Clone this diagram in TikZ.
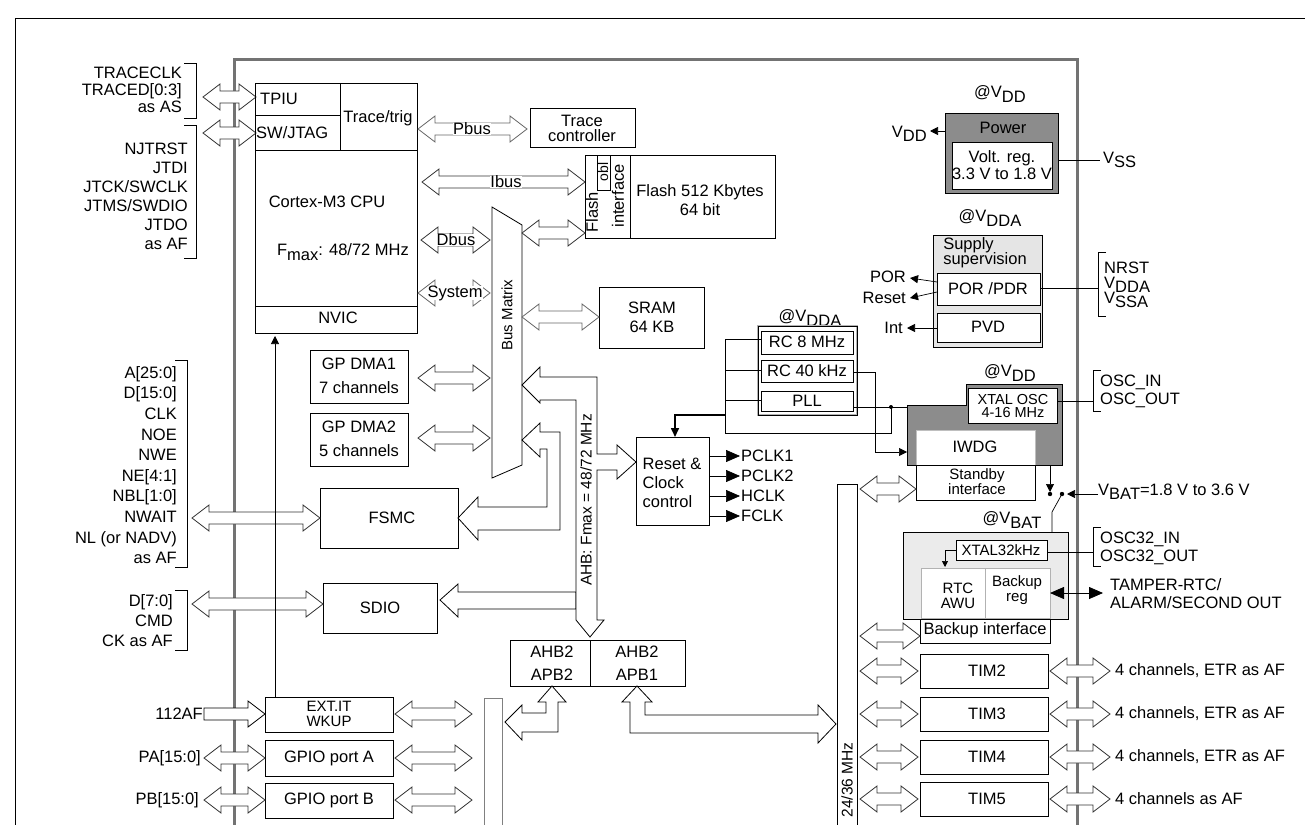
\documentclass[tikz,border=0pt]{standalone}
\usepackage{fontspec}
\setmainfont{Liberation Sans}
\usetikzlibrary{positioning,arrows.meta}
\newcommand\lowr[1]{\raisebox{-.5ex}{#1}}
% hollow double bus arrow: \dbus[colour]{x1}{x2}{y}
\newcommand\dbus[4][black!80]{\draw[bus,draw=#1] (#2,#4) -- ({#2+17},{#4-13}) -- ({#2+17},{#4-6}) -- ({#3-17},{#4-6}) -- ({#3-17},{#4-13}) -- (#3,#4) -- ({#3-17},{#4+13}) -- ({#3-17},{#4+6}) -- ({#2+17},{#4+6}) -- ({#2+17},{#4+13}) -- cycle;}
% hollow single bus arrow pointing right
\newcommand\sbus[3]{\draw[bus] (#1,{#3-6}) -- ({#2-17},{#3-6}) -- ({#2-17},{#3-13}) -- (#2,#3) -- ({#2-17},{#3+13}) -- ({#2-17},{#3+6}) -- (#1,{#3+6}) -- cycle;}
% bracket: \lbrk{x}{y1}{y2} opens left, \rbrk opens right
\newcommand\lbrk[3]{\draw (#1-12,#2) -- (#1,#2) -- (#1,#3) -- (#1-12,#3);}
\newcommand\rbrk[3]{\draw (#1+8,#2) -- (#1,#2) -- (#1,#3) -- (#1+8,#3);}
\tikzset{
  bus/.style={fill=white,line width=0.8pt,line join=miter},
  box/.style={draw,line width=0.8pt},
  lbl/.style={inner sep=0pt,font=\fontsize{16.5}{18}\selectfont,align=center},
  tight/.style={font=\fontsize{15}{15}\selectfont},
  rlbl/.style={lbl,anchor=east,align=right},
  llbl/.style={lbl,anchor=west,align=left},
  ln/.style={line width=0.7pt},
  tip/.style={-{Triangle[length=8pt,width=8pt]},line width=0.7pt}
}
\begin{document}
\begin{tikzpicture}[x=1pt,y=-1pt]
  \useasboundingbox (0,0) rectangle (1305,824);
  % frames
  \draw[line width=0.8pt] (15,830) -- (15,18) -- (1310,18);
  \draw[line width=3pt,black!55] (234,830) -- (234,60) -- (1077,60) -- (1077,830);

  % trace / jtag pins
  \node[rlbl] (trc) at (182,90) {TRACECLK\\[-1pt]TRACED[0:3]\\[-1pt]as AS};
  \lbrk{196}{63}{118}
  \node[rlbl] (jtg) at (188,196) {NJTRST\\[1pt]JTDI\\[1pt]JTCK/SWCLK\\[1pt]JTMS/SWDIO\\[1pt]JTDO\\[1pt]as AF};
  \lbrk{196}{125}{258}
  \dbus{203}{256}{97}
  \dbus{203}{256}{133}

  % CPU
  \draw[box] (255,83) rectangle (417,333);
  \draw[box] (255,115) -- (340,115) (340,83) -- (340,150) (255,150) -- (417,150) (255,306) -- (417,306);
  \node[llbl] (tpiu) at (260,99) {TPIU};
  \node[llbl] (swj) at (256,133) {SW/JTAG};
  \node[lbl] (trig) at (378,118) {Trace/trig};
  \node[lbl] (cpu) at (327,202) {Cortex-M3 CPU};
  \node[lbl] (fmx) at (343,252) {F\lowr{max}: 48/72 MHz};
  \node[lbl] (nvic) at (338,318) {NVIC};

  % buses from CPU
  \dbus[black!60]{418}{527}{129}
  \node[lbl,fill=white] (pbus) at (472,129) {Pbus};
  \draw[box] (530,108) rectangle (635,147);
  \node[lbl] (trctl) at (582,128) {Trace\\[-3pt]controller};
  \dbus{422}{585}{182}
  \node[lbl,fill=white] (ibus) at (506,182) {Ibus};
  \dbus{421}{490}{240}
  \node[lbl,fill=white] (dbus) at (456,240) {Dbus};
  \dbus[black!60]{418}{490}{293}
  \node[lbl,fill=white] (sysb) at (455,293) {System};

  % flash
  \draw[box] (585,155) rectangle (775,238);
  \draw[box] (630,155) -- (630,238) (597,155) -- (597,190) -- (610,190) -- (610,155);
  \node[lbl,rotate=90,font=\fontsize{14}{15}\selectfont] (obl) at (603,172) {obl};
  \node[lbl,rotate=90] (fls) at (592,212) {Flash};
  \node[lbl,rotate=90] (fif) at (618,196) {interface};
  \node[lbl] (flash) at (700,200) {Flash 512 Kbytes\\[1pt]64 bit};

  % bus matrix
  \draw[box,fill=white] (492,207) -- (522,225) -- (522,465) -- (492,478) -- cycle;
  \node[lbl,rotate=90,font=\fontsize{15}{15}\selectfont] (bm) at (507,315) {Bus Matrix};
  \dbus{522}{585}{233}
  \draw[box] (599,287) rectangle (704,348);
  \node[lbl] (sram) at (652,317) {SRAM\\[1pt]64 KB};
  \dbus[black!60]{522}{599}{317}

  % DMA
  \draw[box] (310,350) rectangle (408,403);
  \node[lbl] (dma1) at (359,376) {GP DMA1\\[6pt]7 channels};
  \draw[box] (310,413) rectangle (408,466);
  \node[lbl] (dma2) at (359,439) {GP DMA2\\[6pt]5 channels};
  \dbus{418}{490}{378}
  \dbus{418}{490}{438}

  % FSMC and SDIO
  \draw[box] (320,488) rectangle (458,548);
  \node[lbl] (fsmc) at (392,518) {FSMC};
  \draw[bus] (522,440) -- (540,423) -- (540,432) -- (560,432) -- (560,530) -- (478,530) -- (478,540) -- (458,518) -- (478,497) -- (478,507) -- (547,507) -- (547,449) -- (540,449) -- (540,457) -- cycle;
  \draw[box] (323,583) rectangle (437,633);
  \node[lbl] (sdio) at (380,608) {SDIO};
  \draw[bus] (440,600) -- (458,584) -- (458,592) -- (576,592) -- (576,609) -- (458,609) -- (458,617) -- cycle;

  % AHB
  \draw[bus] (522,385) -- (540,367) -- (540,377) -- (597,377) -- (597,454) -- (617,454) -- (617,445) -- (636,462) -- (617,479) -- (617,470) -- (597,470) -- (597,620) -- (604,620) -- (590,637) -- (576,620) -- (576,620) -- (576,400) -- (540,400) -- (540,403) -- cycle;
  \node[lbl,rotate=90,font=\fontsize{15.5}{16}\selectfont] (ahb) at (586,500) {AHB: Fmax = 48/72 MHz};

  % left pins
  \node[rlbl] (fpin) at (177,465) {A[25:0]\\[2.6pt]D[15:0]\\[2.6pt]CLK\\[2.6pt]NOE\\[2.6pt]NWE\\[2.6pt]NE[4:1]\\[2.6pt]NBL[1:0]\\[2.6pt]NWAIT\\[2.6pt]NL (or NADV)\\[2.6pt]as AF};
  \lbrk{187}{360}{567}
  \dbus{192}{320}{518}
  \node[rlbl] (spin) at (173,621) {D[7:0]\\[2pt]CMD\\[2pt]CK as AF};
  \lbrk{187}{590}{650}
  \dbus{192}{323}{604}

  % NVIC line
  \draw[tip] (275,697) -- (275,336);

  % AHB2/APB bridges
  \draw[box] (510,640) rectangle (685,686);
  \draw[box] (590,640) -- (590,686);
  \node[lbl] (br2) at (552,663) {AHB2\\[5pt]APB2};
  \node[lbl] (br1) at (637,663) {AHB2\\[5pt]APB1};
  \draw[bus] (552,686) -- (566,702) -- (558,702) -- (558,732) -- (522,732) -- (522,740) -- (505,722) -- (522,705) -- (522,713) -- (546,713) -- (546,702) -- (538,702) -- cycle;
  \draw[bus] (637,686) -- (652,702) -- (645,702) -- (645,715) -- (818,715) -- (818,705) -- (836,724) -- (818,743) -- (818,733) -- (630,733) -- (630,702) -- (622,702) -- cycle;
  \draw[line width=0.8pt,black!50] (484,830) -- (484,698) -- (502,698) -- (502,830);
  \draw[box] (837,830) -- (837,484) -- (857,484) -- (857,830);
  \node[lbl,rotate=90,font=\fontsize{15.5}{16}\selectfont] (apb1f) at (847,780) {24/36 MHz};

  % GPIO
  \draw[box] (265,697) rectangle (393,732);
  \node[lbl,tight] (ext) at (329,714) {EXT.IT\\WKUP};
  \draw[box] (265,740) rectangle (393,776);
  \node[lbl] (gpa) at (329,758) {GPIO port A};
  \draw[box] (265,783) rectangle (393,818);
  \node[lbl] (gpb) at (329,800) {GPIO port B};
  \node[rlbl] (af) at (203,714) {112AF};
  \sbus{204}{265}{714}
  \node[rlbl] (pa) at (201,758) {PA[15:0]};
  \dbus{204}{265}{758}
  \node[rlbl] (pb) at (199,800) {PB[15:0]};
  \dbus{204}{265}{800}
  \foreach \y in {714,758,800} {\dbus{395}{472}{\y}}

  % timers
  \foreach \n/\y/\t in {2/671/{4 channels, ETR as AF},3/714/{4 channels, ETR as AF},4/757/{4 channels, ETR as AF},5/799/{4 channels as AF}} {
    \draw[box] (920,{\y-17}) rectangle (1048,{\y+17});
    \node[lbl] (tim\n) at (987,\y) {TIM\n};
    \dbus{860}{918}{\y}
    \dbus{1050}{1110}{\y}
    \node[llbl] (tch\n) at (1115,\y) {\t};
  }

  % RCC
  \draw[box] (636,437) rectangle (709,525);
  \node[lbl,align=left] (rcc) at (672,483) {Reset \&\\[1pt]Clock\\[1pt]control};
  \foreach \y/\t in {456/PCLK1,476/PCLK2,496/HCLK,516/FCLK} {
    \draw[-{Triangle[length=14pt,width=12pt]},line width=0.7pt] (709,\y) -- (740,\y);
    \node[llbl] (clk\t) at (741,\y) {\t};
  }

  % oscillators @VDDA
  \node[lbl] (vdda1) at (810,318) {@V\lowr{DDA}};
  \draw[line width=2.5pt,black!30] (758,326) rectangle (857,415);
  \draw[box] (758,326) rectangle (857,415);
  \draw[box,fill=white] (761,331) rectangle (853,354);
  \node[lbl] (rc8) at (807,342) {RC 8 MHz};
  \draw[box,fill=white] (761,360) rectangle (853,382);
  \node[lbl] (rc40) at (807,371) {RC 40 kHz};
  \draw[box,fill=white] (761,391) rectangle (853,411);
  \node[lbl] (pll) at (807,401) {PLL};
  \draw[ln] (761,339) -- (725,339) -- (725,433) -- (891,433) -- (891,407);
  \draw[ln] (761,370) -- (725,370) (761,400) -- (725,400);
  \draw[ln] (853,407) -- (907,407);
  \fill (891,407) circle (2pt);
  \draw[ln] (853,372) -- (875,372) -- (875,452);
  \draw[tip] (875,452) -- (907,452);
  \draw[-{Triangle[length=9pt,width=8pt]},line width=1.6pt] (725,415) -- (675,415) -- (675,437);

  % IWDG / XTAL OSC
  \node[lbl] (vdd2) at (1010,373) {@V\lowr{DD}};
  \draw[box,fill=black!45] (907,405) -- (966,405) -- (966,384) -- (1062,384) -- (1062,465) -- (907,465) -- cycle;
  \draw[line width=0.8pt,draw=black!25,fill=white] (916,430) rectangle (1035,465);
  \node[lbl] (iwdg) at (975,447) {IWDG};
  \draw[box,fill=white] (968,388) rectangle (1057,423);
  \node[lbl,font=\fontsize{14.5}{13}\selectfont] (xosc) at (1013,406) {XTAL OSC\\4-16 MHz};
  \draw[box] (916,465) rectangle (1035,500);
  \node[lbl,tight] (stby) at (977,482) {Standby\\interface};
  \dbus{860}{916}{489}
  \draw[ln] (1057,401) -- (1093,401);
  \rbrk{1093}{370}{411}
  \node[llbl] (osc) at (1100,391) {OSC\_IN\\[0pt]OSC\_OUT};

  % VBAT switch
  \draw[tip] (1050,465) -- (1050,492);
  \fill (1050,494) circle (2.2pt) (1062,494) circle (2.2pt);
  \draw[ln] (1062,494) -- (1052,512) -- (1052,532);
  \draw[tip] (1098,494) -- (1067,494);
  \node[llbl] (vbat) at (1098,492) {V\lowr{BAT}=1.8 V to 3.6 V};

  % backup domain
  \node[lbl] (vbat2) at (1012,520) {@V\lowr{BAT}};
  \draw[box,fill=black!8] (903,532) rectangle (1068,619);
  \draw[line width=0.8pt,draw=black!30,fill=white] (921,568) rectangle (1050,618);
  \draw[line width=0.8pt,draw=black!30] (985,568) -- (985,618);
  \node[lbl,tight] (rtc) at (958,596) {RTC\\AWU};
  \node[lbl,tight] (bkr) at (1017,590) {Backup\\reg};
  \draw[box,fill=white] (956,540) rectangle (1047,560);
  \node[lbl,font=\fontsize{15}{14}\selectfont] (x32) at (1001,550) {XTAL32kHz};
  \draw[-{Triangle[length=6pt,width=6pt]},line width=0.7pt] (956,550) -- (945,550) -- (945,567);
  \draw[ln] (1047,552) -- (1093,552);
  \rbrk{1093}{527}{566}
  \node[llbl] (osc32) at (1100,548) {OSC32\_IN\\[0pt]OSC32\_OUT};
  \draw[{Triangle[length=14pt,width=12pt]}-{Triangle[length=14pt,width=12pt]},line width=0.8pt] (1050,593) -- (1103,593);
  \node[llbl] (tmp) at (1110,594) {TAMPER-RTC/\\[0pt]ALARM/SECOND OUT};
  \draw[box] (920,619) rectangle (1050,643);
  \node[lbl] (bkif) at (985,630) {Backup interface};
  \dbus{860}{920}{636}

  % power
  \node[lbl] (vdd1) at (1000,94) {@V\lowr{DD}};
  \draw[box,fill=black!45] (945,113) rectangle (1058,193);
  \node[lbl] (pwr) at (1003,128) {Power};
  \draw[box,fill=white] (952,142) rectangle (1052,189);
  \node[lbl] (vreg) at (1002,165) {Volt. reg.\\[-1pt]3.3 V to 1.8 V};
  \draw[tip] (945,131) -- (930,131);
  \node[rlbl] (vddo) at (927,134) {V\lowr{DD}};
  \draw[ln] (1058,160) -- (1100,160);
  \node[llbl] (vss) at (1103,160) {V\lowr{SS}};

  % supply supervision
  \node[lbl] (vdda2) at (990,218) {@V\lowr{DDA}};
  \draw[box,fill=black!10] (933,235) rectangle (1042,347);
  \node[lbl,align=left] (sup) at (985,253) {Supply\\[-3pt]supervision};
  \draw[box,fill=white] (937,273) rectangle (1040,305);
  \node[lbl] (por) at (988,289) {POR /PDR};
  \draw[box,fill=white] (937,313) rectangle (1040,342);
  \node[lbl] (pvd) at (988,327) {PVD};
  \node[rlbl] (porl) at (906,277) {POR};
  \node[rlbl] (rstl) at (906,298) {Reset};
  \node[rlbl] (intl) at (903,328) {Int};
  \draw[tip] (937,282) -- (910,278);
  \draw[tip] (937,292) -- (910,298);
  \draw[tip] (937,328) -- (907,328);
  \draw[ln] (1040,288) -- (1098,288);
  \rbrk{1098}{252}{316}
  \node[llbl] (sup2) at (1104,285) {NRST\\[-3pt]V\lowr{DDA}\\[-3pt]V\lowr{SSA}};
\end{tikzpicture}
\end{document}
